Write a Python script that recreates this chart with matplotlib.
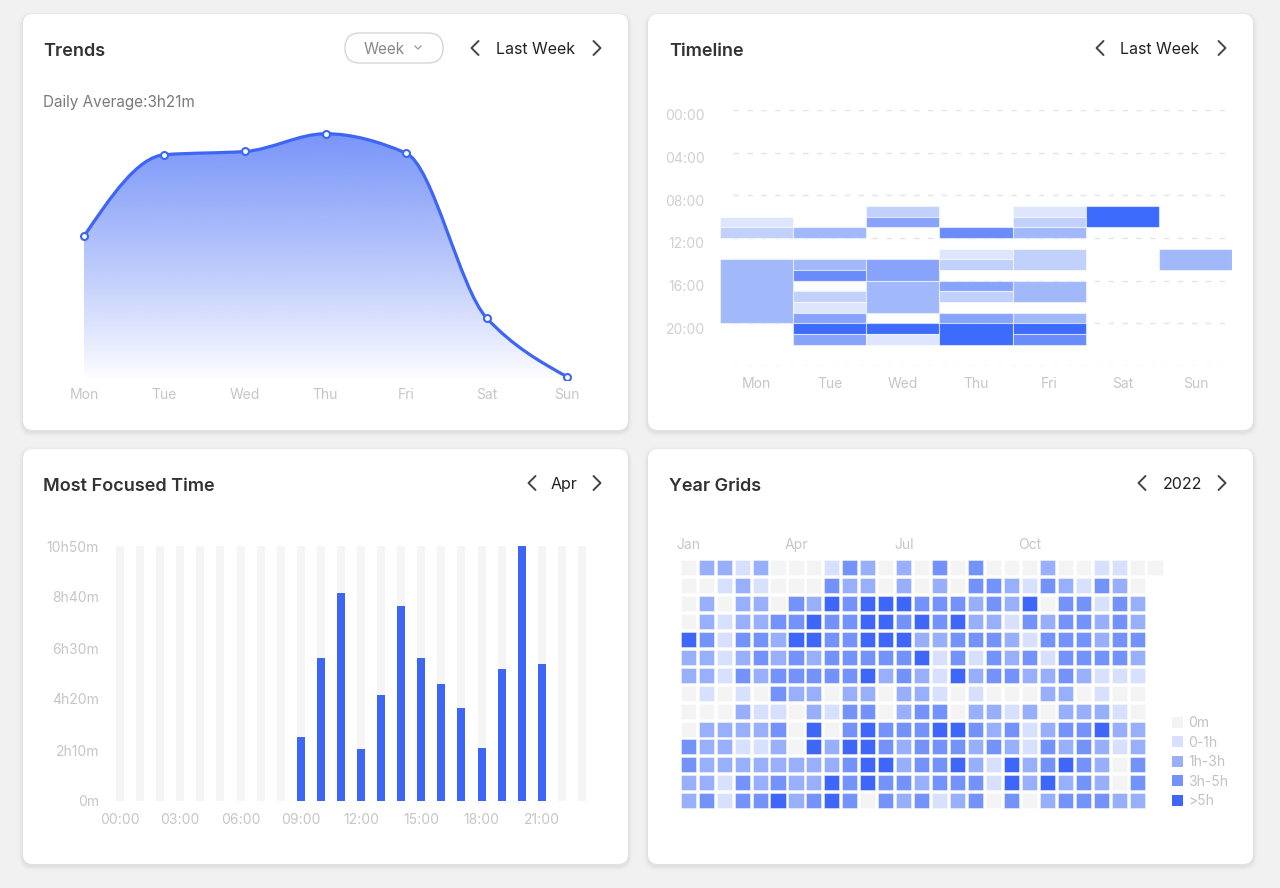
import numpy as np
import matplotlib
matplotlib.use('Agg')
import matplotlib.pyplot as plt
import matplotlib.transforms as mtransforms
from matplotlib.patches import FancyBboxPatch, PathPatch, Rectangle
from matplotlib.path import Path
from matplotlib.colors import to_rgb

plt.rcParams['font.family'] = ['Inter', 'DejaVu Sans']

# ---- data ----
days = ['Mon', 'Tue', 'Wed', 'Thu', 'Fri', 'Sat', 'Sun']
trend_minutes = [178, 279, 283, 305, 281, 77, 4]

# timeline blocks: day index, start hour, end hour, intensity level (0-6)
tl_day = [0, 0, 0,
          1, 1, 1, 1, 1, 1, 1, 1, 1,
          2, 2, 2, 2, 2, 2, 2,
          3, 3, 3, 3, 3, 3, 3,
          4, 4, 4, 4, 4, 4, 4, 4,
          5,
          6]
tl_start = [10, 11, 14,
            11, 14, 15, 16, 17, 18, 19, 20, 21,
            9, 10, 14, 16, 19, 20, 21,
            11, 13, 14, 16, 17, 19, 20,
            9, 10, 11, 13, 16, 19, 20, 21,
            9,
            13]
tl_end = [11, 12, 20,
          12, 15, 16, 17, 18, 19, 20, 21, 22,
          10, 11, 16, 19, 20, 21, 22,
          12, 14, 15, 17, 18, 20, 22,
          10, 11, 12, 15, 18, 20, 21, 22,
          11,
          15]
tl_level = [1, 2, 3,
            3, 3, 5, 0, 2, 1, 4, 6, 4,
            2, 4, 4, 3, 0, 6, 1,
            5, 1, 2, 4, 2, 4, 6,
            1, 2, 3, 2, 3, 3, 6, 5,
            6,
            3]
tl_hours = [0, 4, 8, 12, 16, 20]
tl_hour_labels = ['00:00', '04:00', '08:00', '12:00', '16:00', '20:00']

focus_hours = list(range(24))
focus_minutes = [0, 0, 0, 0, 0, 0, 0, 0, 0,
                 164, 365, 529, 132, 270, 496, 364, 299, 236, 134, 336, 650, 350,
                 0, 0]
focus_yticks = [0, 130, 260, 390, 520, 650]
focus_ylabels = ['0m', '2h10m', '4h20m', '6h30m', '8h40m', '10h50m']
focus_xticks = [0, 3, 6, 9, 12, 15, 18, 21]
focus_xlabels = ['00:00', '03:00', '06:00', '09:00', '12:00', '15:00', '18:00', '21:00']

# year grid: 14 rows x 27 columns (two weeks per column), level 0-4
grid_rows = [
    [0, 2, 2, 1, 2, 0, 0, 0, 1, 3, 2, 0, 2, 0, 3, 0, 3, 0, 0, 0, 2, 0, 0, 1, 1, 0, 0],
    [0, 0, 1, 2, 1, 0, 0, 0, 3, 2, 2, 0, 2, 0, 2, 0, 3, 3, 2, 1, 3, 2, 1, 3, 2, 0],
    [0, 2, 0, 2, 2, 0, 3, 2, 4, 3, 4, 4, 4, 3, 3, 3, 2, 3, 2, 4, 0, 3, 3, 1, 3, 2],
    [0, 2, 1, 2, 2, 3, 3, 4, 3, 3, 4, 4, 3, 4, 3, 4, 2, 2, 1, 3, 2, 3, 3, 2, 3, 2],
    [4, 3, 1, 3, 3, 2, 4, 4, 3, 3, 4, 4, 4, 2, 2, 3, 3, 3, 2, 1, 3, 3, 3, 2, 3, 3],
    [2, 2, 1, 2, 3, 2, 3, 2, 3, 3, 3, 3, 3, 4, 1, 3, 1, 3, 2, 3, 1, 3, 3, 3, 3, 2],
    [2, 2, 1, 3, 2, 3, 3, 3, 3, 3, 4, 2, 3, 2, 1, 4, 2, 3, 3, 2, 2, 3, 2, 1, 1, 1],
    [0, 1, 0, 1, 0, 3, 2, 2, 0, 2, 2, 0, 2, 2, 1, 0, 1, 0, 0, 0, 2, 2, 0, 1, 0, 0],
    [0, 0, 0, 2, 1, 1, 0, 2, 1, 3, 3, 0, 2, 3, 3, 0, 2, 2, 1, 2, 0, 2, 2, 2, 1, 0],
    [0, 2, 2, 2, 2, 3, 0, 4, 0, 3, 4, 3, 3, 3, 4, 4, 3, 2, 3, 1, 2, 3, 3, 4, 2, 2],
    [3, 2, 2, 1, 1, 2, 0, 4, 2, 4, 4, 3, 2, 3, 3, 3, 2, 3, 2, 1, 3, 2, 3, 2, 1, 2],
    [3, 2, 2, 2, 2, 2, 2, 2, 2, 3, 4, 4, 2, 3, 3, 4, 2, 1, 4, 2, 3, 4, 3, 2, 0, 3],
    [2, 2, 1, 3, 2, 3, 2, 2, 4, 3, 4, 3, 3, 2, 3, 3, 3, 1, 4, 2, 4, 2, 3, 2, 0, 3],
    [2, 3, 1, 3, 3, 4, 2, 3, 4, 3, 0, 3, 2, 3, 1, 2, 3, 0, 3, 0, 2, 3, 3, 3, 2, 2],
]
month_cols = [0, 6, 12, 19]
month_labels = ['Jan', 'Apr', 'Jul', 'Oct']
legend_labels = ['0m', '0-1h', '1h-3h', '3h-5h', '>5h']

# ---- style ----
BLUE = '#3d66f6'
TICK = '#c6c6c6'
tl_colors = ['#ffffff', '#dde6fd', '#c2d1fc', '#a1b8fb', '#87a3fb', '#6a8cfb', '#3d6bfb']
grid_colors = ['#f4f4f4', '#d7e0fd', '#98b0fb', '#7392fa', '#3e67fa']

W, H = 1280, 888
fig = plt.figure(figsize=(W / 100, H / 100), dpi=100)
fig.patch.set_facecolor('#f1f1f1')

bg = fig.add_axes([0, 0, 1, 1])
bg.set_xlim(0, W)
bg.set_ylim(H, 0)
bg.axis('off')


def add_axes(l, t, r, b):
    ax = fig.add_axes([l / W, 1 - b / H, (r - l) / W, (b - t) / H])
    ax.patch.set_alpha(0)
    for s in ax.spines.values():
        s.set_visible(False)
    ax.tick_params(length=0, colors=TICK, labelsize=10)
    return ax


def card(x, y, w, h):
    for i, a in enumerate([0.03, 0.02, 0.012]):
        g = (i + 1) * 1.5
        bg.add_patch(FancyBboxPatch((x - g, y - g + 2), w + 2 * g, h + 2 * g,
                                    boxstyle=f"round,pad=0,rounding_size={10 + g}",
                                    fc=(0, 0, 0, a), ec='none'))
    bg.add_patch(FancyBboxPatch((x, y), w, h, boxstyle="round,pad=0,rounding_size=10",
                                fc='white', ec='none'))


def chev(x, y, d):
    bg.plot([x + 3.5 * d, x - 3.5 * d, x + 3.5 * d], [y - 7, y, y + 7],
            color='#444444', lw=1.4, solid_capstyle='round', solid_joinstyle='round')


def nav(x_left, x_text, x_right, y, label):
    chev(x_left, y, 1)
    chev(x_right, y, -1)
    bg.text(x_text, y + 1, label, ha='center', va='center', fontsize=11.5, color='#222222')


card(23, 14, 605, 416)
card(648, 14, 605, 416)
card(23, 449, 605, 415)
card(648, 449, 605, 415)

for x, y, t in [(43, 48, 'Trends'), (669, 48, 'Timeline'),
                (43, 483, 'Most Focused Time'), (669, 483, 'Year Grids')]:
    bg.text(x, y + 3, t, ha='left', va='center', fontsize=13, fontweight='semibold', color='#333333')

# week pill
bg.add_patch(FancyBboxPatch((345, 33), 98, 30, boxstyle="round,pad=0,rounding_size=15",
                            fc='white', ec='#d6d6d6', lw=1))
bg.text(384, 49, 'Week', ha='center', va='center', fontsize=11, color='#888888')
bg.plot([415, 418, 421], [46, 49, 46], color='#999999', lw=0.9)

nav(475, 535, 597, 48, 'Last Week')
nav(1100, 1160, 1222, 48, 'Last Week')
nav(532, 564, 597, 483, 'Apr')
nav(1142, 1182, 1222, 483, '2022')

bg.text(43, 102, 'Daily Average:3h21m', ha='left', va='center', fontsize=11, color='#7a7a7a')

# ---- Trends ----
ax1 = add_axes(60, 120, 591, 380)
xs = np.arange(len(days), dtype=float)
ys = np.array(trend_minutes, dtype=float)
sec = np.diff(ys)
m = np.zeros_like(ys)
for i in range(1, len(ys) - 1):
    if sec[i - 1] * sec[i] > 0:
        m[i] = 2 * sec[i - 1] * sec[i] / (sec[i - 1] + sec[i])
m[0] = (3 * sec[0] - m[1]) / 2
m[-1] = (3 * sec[-1] - m[-2]) / 2
verts = [(xs[0], ys[0])]
codes = [Path.MOVETO]
for i in range(len(xs) - 1):
    verts += [(xs[i] + 1 / 3, ys[i] + m[i] / 3), (xs[i + 1] - 1 / 3, ys[i + 1] - m[i + 1] / 3),
              (xs[i + 1], ys[i + 1])]
    codes += [Path.CURVE4] * 3
fill_path = Path(verts + [(xs[-1], 0), (0, 0), (0, 0)],
                 codes + [Path.LINETO, Path.LINETO, Path.CLOSEPOLY])
fill_patch = PathPatch(fill_path, fc='none', ec='none')
ax1.add_patch(fill_patch)
top = max(trend_minutes) + 5
grad = np.zeros((256, 1, 4))
grad[..., :3] = to_rgb('#4169f6')
grad[..., 3] = 0.72 * np.linspace(0, 1, 256).reshape(-1, 1) ** 0.9
im = ax1.imshow(grad, extent=[0, xs[-1], 0, top], origin='lower', aspect='auto', zorder=1)
im.set_clip_path(fill_patch)
ax1.add_patch(PathPatch(Path(verts, codes), fc='none', ec=BLUE, lw=2.3, zorder=3))
ax1.plot(xs, ys, 'o', ms=5, mfc='white', mec=BLUE, mew=1.5, zorder=4)
ax1.set_xlim(-0.298, 6.298)
ax1.set_ylim(0, 322)
ax1.set_xticks(range(len(days)), days)
ax1.set_yticks([])
ax1.tick_params(axis='x', pad=6)

# ---- Timeline ----
ax2 = add_axes(720, 110, 1232, 366)
ax2.hlines(range(0, 25, 4), -0.32, 6.5, colors='#e4e4e4', linestyles=(0, (4, 6)), lw=1, zorder=0)
for d, s, e, lv in zip(tl_day, tl_start, tl_end, tl_level):
    ec = '#e3e9fd' if lv == 0 else (1, 1, 1, 0.55)
    ax2.bar(d, e - s, bottom=s, width=1, color=tl_colors[lv], edgecolor=ec, linewidth=0.8, zorder=2)
ax2.set_xlim(-0.5, 6.5)
ax2.set_ylim(24, 0)
ax2.set_xticks(range(len(days)), days)
ax2.set_yticks(tl_hours, tl_hour_labels)
ax2.tick_params(axis='y', pad=11, colors='#d0d0d0')
ax2.tick_params(axis='x', pad=8)
off = mtransforms.ScaledTranslation(0, -5 / 100, fig.dpi_scale_trans)
for lbl in ax2.get_yticklabels():
    lbl.set_transform(lbl.get_transform() + off)

# ---- Most Focused Time ----
ax3 = add_axes(110, 546, 592, 801)
ax3.bar(focus_hours, [max(focus_yticks)] * len(focus_hours), width=0.4, color='#f5f5f5', zorder=1)
ax3.bar(focus_hours, focus_minutes, width=0.4, color=BLUE, zorder=2)
ax3.set_xlim(-0.5, 23.5)
ax3.set_ylim(0, max(focus_yticks))
ax3.set_yticks(focus_yticks, focus_ylabels)
ax3.set_xticks(focus_xticks, focus_xlabels)
ax3.tick_params(axis='y', pad=8)
ax3.tick_params(axis='x', pad=9)

# ---- Year Grids ----
ax4 = add_axes(679.3, 559, 1164, 809.6)
for r, row in enumerate(grid_rows):
    cols = np.arange(len(row))
    ax4.bar(cols, 0.84, bottom=r - 0.42, width=0.84,
            color=[grid_colors[v] for v in row], edgecolor=(1, 1, 1, 0.5), linewidth=0.6)
ax4.set_xlim(-0.5, 26.5)
ax4.set_ylim(len(grid_rows) - 0.5, -0.5)
ax4.xaxis.tick_top()
ax4.set_xticks(month_cols, month_labels)
ax4.set_yticks([])
ax4.tick_params(axis='x', pad=5)

for i, (lab, col) in enumerate(zip(legend_labels, grid_colors)):
    y = 722 + i * 19.5
    bg.add_patch(Rectangle((1171.5, y - 5.5), 11, 11, fc=col, ec='none'))
    bg.text(1188, y + 1, lab, ha='left', va='center', fontsize=10, color='#c2c2c2')

fig.savefig('out.png', dpi=100, facecolor=fig.get_facecolor())
